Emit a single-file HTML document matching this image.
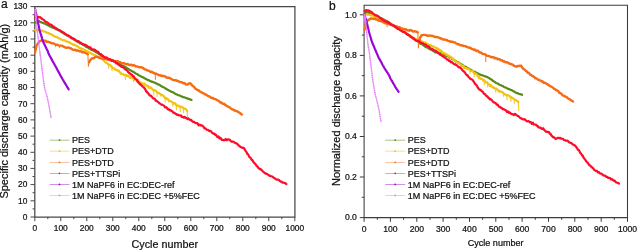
<!DOCTYPE html>
<html><head><meta charset="utf-8"><title>Cycling performance</title>
<style>
html,body{margin:0;padding:0;background:#fff}
svg{display:block}
text{font-family:"Liberation Sans",sans-serif;fill:#111;stroke:#111;stroke-width:0.22px}
.t{font-size:8.4px}
.t2{font-size:8.6px}
.l{font-size:9.0px}
.a{font-size:11.0px}
.a1{font-size:10.8px}
.a2{font-size:9.05px}
.p{font-size:12px}
</style></head><body>
<svg width="637" height="250" viewBox="0 0 637 250">
<rect width="637" height="250" fill="#fff"/>
<path d="M34.8,6.6 H294.9 V217.0 H34.8 Z" fill="none" stroke="#484848" stroke-width="1.25"/>
<path d="M34.8,217.0 h-4.3 M34.8,200.8 h-4.3 M34.8,184.6 h-4.3 M34.8,168.4 h-4.3 M34.8,152.3 h-4.3 M34.8,136.1 h-4.3 M34.8,119.9 h-4.3 M34.8,103.7 h-4.3 M34.8,87.5 h-4.3 M34.8,71.3 h-4.3 M34.8,55.2 h-4.3 M34.8,39.0 h-4.3 M34.8,22.8 h-4.3 M34.8,6.6 h-4.3 M34.8,208.9 h-2.3 M34.8,192.7 h-2.3 M34.8,176.5 h-2.3 M34.8,160.4 h-2.3 M34.8,144.2 h-2.3 M34.8,128.0 h-2.3 M34.8,111.8 h-2.3 M34.8,95.6 h-2.3 M34.8,79.4 h-2.3 M34.8,63.2 h-2.3 M34.8,47.1 h-2.3 M34.8,30.9 h-2.3 M34.8,14.7 h-2.3 M34.8,217.0 v4.2 M60.8,217.0 v4.2 M86.8,217.0 v4.2 M112.8,217.0 v4.2 M138.8,217.0 v4.2 M164.8,217.0 v4.2 M190.8,217.0 v4.2 M216.8,217.0 v4.2 M242.8,217.0 v4.2 M268.8,217.0 v4.2 M294.8,217.0 v4.2 M47.8,217.0 v2.2 M73.8,217.0 v2.2 M99.8,217.0 v2.2 M125.8,217.0 v2.2 M151.8,217.0 v2.2 M177.8,217.0 v2.2 M203.8,217.0 v2.2 M229.8,217.0 v2.2 M255.8,217.0 v2.2 M281.8,217.0 v2.2 " fill="none" stroke="#484848" stroke-width="1"/>
<text x="27.4" y="219.8" text-anchor="end" class="t">0</text>
<text x="27.4" y="203.6" text-anchor="end" class="t">10</text>
<text x="27.4" y="187.4" text-anchor="end" class="t">20</text>
<text x="27.4" y="171.2" text-anchor="end" class="t">30</text>
<text x="27.4" y="155.1" text-anchor="end" class="t">40</text>
<text x="27.4" y="138.9" text-anchor="end" class="t">50</text>
<text x="27.4" y="122.7" text-anchor="end" class="t">60</text>
<text x="27.4" y="106.5" text-anchor="end" class="t">70</text>
<text x="27.4" y="90.3" text-anchor="end" class="t">80</text>
<text x="27.4" y="74.1" text-anchor="end" class="t">90</text>
<text x="27.4" y="58.0" text-anchor="end" class="t">100</text>
<text x="27.4" y="41.8" text-anchor="end" class="t">110</text>
<text x="27.4" y="25.6" text-anchor="end" class="t">120</text>
<text x="27.4" y="9.4" text-anchor="end" class="t">130</text>
<text x="34.8" y="231.1" text-anchor="middle" class="t">0</text>
<text x="60.8" y="231.1" text-anchor="middle" class="t">100</text>
<text x="86.8" y="231.1" text-anchor="middle" class="t">200</text>
<text x="112.8" y="231.1" text-anchor="middle" class="t">300</text>
<text x="138.8" y="231.1" text-anchor="middle" class="t">400</text>
<text x="164.8" y="231.1" text-anchor="middle" class="t">500</text>
<text x="190.8" y="231.1" text-anchor="middle" class="t">600</text>
<text x="216.8" y="231.1" text-anchor="middle" class="t">700</text>
<text x="242.8" y="231.1" text-anchor="middle" class="t">800</text>
<text x="268.8" y="231.1" text-anchor="middle" class="t">900</text>
<text x="294.8" y="231.1" text-anchor="middle" class="t">1000</text>
<path d="M35.0,23.0 L35.6,22.2 L36.6,21.9 L37.5,21.1 L38.5,20.8 L39.4,21.3 L40.4,22.1 L41.3,22.2 L42.2,22.7 L43.2,23.0 L44.1,23.5 L45.1,23.8 L46.0,24.2 L46.9,24.8 L47.9,25.2 L48.8,25.8 L49.7,26.1 L50.7,26.7 L51.6,27.1 L52.6,27.6 L53.5,27.9 L54.4,28.1 L55.4,28.8 L56.3,29.3 L57.3,29.8 L58.2,30.0 L59.1,30.6 L59.9,30.9 L60.8,31.7 L61.7,32.1 L62.5,32.5 L63.4,32.9 L64.2,33.8 L65.1,34.4 L66.0,34.5 L66.8,35.3 L67.7,35.7 L68.6,36.1 L69.6,36.7 L70.5,37.5 L71.5,38.1 L72.4,38.3 L73.3,39.1 L74.3,39.4 L75.2,40.3 L76.2,40.7 L77.1,41.5 L78.0,42.1 L79.0,42.4 L79.9,43.3 L80.9,43.5 L81.8,43.9 L82.7,44.8 L83.7,45.1 L84.6,45.7 L85.6,46.4 L86.5,47.1 L87.4,47.3 L88.4,47.8 L89.3,48.7 L90.3,48.9 L91.2,49.7 L92.1,50.1 L93.1,50.4 L94.0,50.9 L95.0,51.4 L95.9,52.0 L96.8,52.5 L97.6,53.0 L98.5,53.6 L99.3,54.3 L100.2,54.6 L101.0,55.1 L101.9,55.8 L102.7,56.1 L103.6,56.6 L104.4,57.5 L105.3,57.8 L106.2,58.2 L107.2,58.3 L108.1,58.9 L109.1,59.4 L110.0,59.5 L110.9,60.2 L111.9,60.6 L112.8,60.7 L113.8,61.4 L114.7,61.7 L115.7,62.3 L116.6,62.6 L117.5,63.2 L118.5,63.7 L119.5,63.8 L120.4,64.3 L121.4,65.1 L122.3,65.7 L123.2,65.8 L124.2,66.4 L125.2,67.1 L126.1,67.5 L127.1,68.2 L128.1,68.8 L129.0,69.4 L130.0,70.1 L130.9,70.5 L131.8,71.0 L132.7,71.7 L133.6,71.8 L134.6,72.7 L135.5,73.4 L136.5,73.8 L137.5,74.3 L138.4,75.2 L139.4,75.6 L140.3,76.0 L141.3,76.6 L142.2,77.2 L143.2,77.4 L144.1,78.0 L145.0,78.4 L146.0,79.2 L146.9,79.4 L147.9,80.1 L148.8,80.2 L149.7,80.7 L150.7,81.2 L151.6,81.7 L152.6,81.9 L153.5,82.2 L154.4,82.5 L155.4,83.1 L156.3,83.3 L157.3,84.0 L158.2,84.4 L159.1,84.6 L159.9,85.1 L160.8,85.9 L161.7,86.3 L162.5,86.9 L163.4,87.2 L164.2,87.6 L165.1,88.2 L166.0,88.9 L166.8,89.2 L167.7,89.7 L168.6,90.2 L169.6,90.7 L170.5,91.2 L171.5,91.9 L172.4,92.0 L173.3,92.4 L174.3,93.3 L175.2,93.7 L176.2,94.3 L177.1,94.5 L178.0,95.1 L179.0,95.5 L179.9,95.5 L180.9,96.1 L181.8,96.6 L182.7,96.9 L183.7,97.2 L184.6,97.4 L185.6,97.8 L186.5,98.2 L187.5,98.4 L188.5,98.9 L189.5,99.1 L190.5,99.7 L191.5,99.8" fill="none" stroke="#5a8a16" stroke-width="2.2" stroke-linejoin="round" stroke-linecap="round"/>
<path d="M108.6,64.7 L108.8,68.2 M111.9,66.9 L112.1,70.6 M120.1,72.4 L120.3,74.4 M125.2,75.0 L125.4,79.4 M133.4,78.8 L133.6,81.4 M139.6,81.8 L139.8,85.1 M143.8,84.0 L144.0,87.4 M148.0,85.8 L148.2,88.1 M153.6,90.1 L153.8,94.7 M157.0,92.2 L157.2,96.4 M160.2,93.9 L160.4,95.9 M165.0,98.1 L165.2,101.8 M168.4,100.0 L168.6,101.9 M172.7,102.6 L172.9,105.9 M176.3,105.0 L176.5,109.6 M180.1,106.8 L180.3,111.5 M183.4,108.2 L183.6,112.6 M187.2,111.0 L187.4,116.4 " fill="none" stroke="#f2c313" stroke-width="1.1" stroke-linecap="round" opacity="0.9"/>
<path d="M35.0,30.2 L35.6,30.2 L36.9,30.0 L38.1,30.2 L39.4,30.2 L40.4,30.6 L41.5,30.7 L42.5,30.6 L43.6,31.5 L44.6,31.5 L45.7,32.0 L46.7,32.6 L47.8,32.9 L48.8,33.1 L49.7,34.0 L50.7,34.2 L51.6,34.5 L52.6,34.9 L53.5,35.9 L54.4,36.1 L55.4,36.8 L56.3,36.9 L57.3,37.3 L58.2,38.0 L59.2,38.6 L60.1,38.5 L61.1,39.4 L62.0,39.8 L63.0,40.1 L63.9,40.5 L64.9,40.3 L65.8,41.1 L66.8,41.7 L67.7,41.5 L68.6,42.1 L69.6,42.6 L70.5,43.2 L71.5,43.6 L72.4,44.1 L73.3,44.8 L74.3,44.7 L75.2,45.2 L76.2,45.8 L77.1,46.2 L78.0,46.6 L79.0,47.7 L79.9,48.1 L80.9,48.0 L81.8,48.8 L82.7,49.1 L83.7,49.5 L84.6,50.0 L85.6,50.7 L86.5,51.1 L87.4,51.4 L88.4,51.8 L89.3,52.4 L90.3,52.7 L91.2,53.5 L92.1,54.2 L93.1,54.4 L94.0,54.7 L95.0,55.3 L95.9,55.9 L96.8,56.5 L97.8,57.1 L98.7,57.3 L99.7,58.1 L100.6,58.4 L101.6,58.8 L102.5,59.2 L103.3,60.0 L104.1,60.9 L104.8,61.5 L105.6,62.4 L106.4,63.0 L107.3,63.2 L108.1,64.3 L109.0,65.1 L109.9,64.7 L110.8,65.9 L111.6,66.5 L112.5,67.8 L113.4,68.5 L114.3,68.2 L115.1,69.6 L116.0,70.1 L116.9,69.7 L117.8,70.6 L118.7,70.6 L119.6,72.2 L120.4,72.5 L121.3,73.4 L122.2,73.8 L123.1,74.1 L124.0,74.8 L125.0,75.0 L126.0,74.8 L127.0,76.0 L128.0,75.6 L129.0,76.3 L130.0,77.8 L131.0,77.2 L132.0,77.7 L133.0,78.2 L134.0,79.8 L135.0,79.1 L136.0,79.2 L137.0,81.0 L138.0,80.2 L139.0,81.8 L140.0,81.9 L140.9,82.7 L141.8,83.4 L142.7,83.3 L143.6,84.2 L144.4,83.5 L145.3,85.2 L146.2,85.4 L147.1,86.2 L148.0,85.8 L148.9,87.4 L149.8,88.2 L150.7,87.4 L151.6,88.3 L152.4,89.3 L153.3,90.3 L154.2,89.9 L155.1,90.3 L156.0,91.0 L157.0,92.2 L157.9,93.0 L158.9,93.0 L159.8,93.6 L160.8,94.2 L161.7,94.8 L162.5,95.5 L163.4,95.6 L164.2,96.9 L165.1,98.2 L166.0,97.9 L166.8,99.1 L167.7,98.8 L168.6,100.1 L169.4,100.8 L170.3,101.2 L171.1,101.4 L172.0,101.9 L172.8,102.7 L173.7,103.6 L174.5,103.0 L175.4,103.4 L176.2,105.0 L177.1,105.8 L178.0,105.6 L179.0,105.9 L179.9,106.9 L180.9,106.5 L181.8,107.1 L182.7,107.4 L183.7,108.5 L184.6,108.6 L185.6,108.9 L186.5,110.1 L187.2,111.0" fill="none" stroke="#f2c313" stroke-width="2.2" stroke-linejoin="round" stroke-linecap="round"/>
<path d="M35.0,52.5 L35.3,50.8 L35.6,50.1 L35.8,48.8 L36.1,48.1 L36.3,46.8 L36.6,45.4 L37.3,44.3 L38.0,43.1 L38.7,42.5 L39.4,41.4 L40.7,40.8 L41.9,40.6 L43.2,40.1 L44.3,40.9 L45.4,40.6 L46.6,41.8 L47.7,41.6 L48.8,42.1 L49.8,42.3 L50.9,43.0 L51.9,43.3 L53.0,43.4 L54.0,43.6 L55.1,44.2 L56.1,44.7 L57.2,44.6 L58.2,45.2 L59.3,45.8 L60.3,45.6 L61.4,45.6 L62.4,45.9 L63.5,46.7 L64.5,47.0 L65.6,47.6 L66.6,47.8 L67.7,47.4 L68.7,47.7 L69.8,48.1 L70.8,48.3 L71.9,49.1 L72.9,49.6 L74.0,50.0 L75.0,49.6 L76.1,50.6 L77.1,50.3 L78.1,50.7 L79.2,51.3 L80.2,51.0 L81.3,51.3 L82.3,52.3 L83.4,52.1 L84.4,52.5 L85.5,53.0 L86.5,53.4 L87.9,54.2 M89.2,62.0 L89.8,61.1 L90.3,59.9 L91.2,59.3 L92.1,58.3 L93.0,58.3 L94.0,58.2 L95.0,57.2 L95.9,56.9 L96.9,56.7 L98.0,57.1 L99.0,57.7 L100.1,57.4 L101.1,58.3 L102.2,58.6 L103.2,58.0 L104.3,59.0 L105.3,58.7 L106.3,59.3 L107.4,59.5 L108.4,59.2 L109.5,59.8 L110.5,60.0 L111.6,60.4 L112.6,60.0 L113.7,60.7 L114.7,61.2 L115.8,61.2 L116.8,61.4 L117.9,61.2 L118.9,61.9 L120.0,62.1 L121.0,62.8 L122.1,63.1 L123.1,63.3 L124.2,63.2 L125.4,63.9 L126.5,64.2 L127.7,64.0 L128.8,64.9 L130.0,65.0 L131.2,64.6 L132.4,65.6 L133.6,65.0 L134.6,65.5 L135.5,66.2 L136.5,66.4 L137.5,66.7 L138.4,67.0 L139.4,67.2 L140.6,67.3 L141.8,67.5 L143.0,67.8 L144.0,68.9 L144.9,69.4 L145.9,69.6 L146.9,70.3 L147.8,70.4 L148.8,70.8 L149.7,71.3 L150.7,72.1 L151.6,71.7 L152.6,72.5 L153.5,72.6 L154.5,73.5 L155.4,73.5 L156.3,73.8 L157.3,74.3 L158.2,74.8 L159.3,75.4 L160.3,75.3 L161.4,76.1 L162.4,75.7 L163.5,76.1 L164.5,76.3 L165.6,76.6 L166.6,77.6 L167.7,77.8 L168.7,77.7 L169.8,78.0 L170.8,78.6 L171.9,79.4 L172.9,79.8 L174.0,80.1 L175.0,80.3 L176.1,80.3 L177.1,80.9 L178.1,81.0 L179.2,81.7 L180.2,82.1 L181.3,82.1 L182.3,82.5 L183.4,83.4 L184.4,83.0 L185.5,84.1 L186.5,84.6 L187.8,84.3 L189.0,83.4 L190.3,83.3 L191.1,84.1 L191.9,85.0 L192.7,86.1 L193.5,86.6 L194.3,87.1 L195.1,88.4 L195.9,88.9 L196.8,89.6 L197.8,90.3 L198.7,90.1 L199.7,91.5 L200.6,91.9 L201.5,92.3 L202.5,92.9 L203.4,93.4 L204.4,93.7 L205.3,94.6 L206.2,94.6 L207.2,95.5 L208.1,96.1 L209.1,96.3 L210.0,96.9 L210.9,97.7 L211.9,98.1 L212.8,97.8 L213.8,98.9 L214.7,99.1 L215.6,99.1 L216.6,99.9 L217.5,100.3 L218.5,100.6 L219.4,101.6 L220.4,102.5 L221.3,102.4 L222.3,103.5 L223.2,103.8 L224.2,103.7 L225.1,105.0 L226.1,105.3 L227.0,106.2 L228.0,106.6 L228.9,107.2 L229.8,107.4 L230.8,108.4 L231.7,109.1 L232.7,109.6 L233.6,109.7 L234.5,110.6 L235.5,110.8 L236.4,111.0 L237.3,111.4 L238.3,112.0 L239.2,112.6 L240.1,113.1 L241.1,114.0 L242.0,114.5" fill="none" stroke="#f56c14" stroke-width="2.4" stroke-linejoin="round" stroke-linecap="round"/>
<path d="M87.9,54.2 L88.4,66.4 L89.2,62.5 M155.4,73.6 L155.4,79.5 M55.5,44.3 L55.6,46.5 M59.5,45.5 L59.6,47.5" fill="none" stroke="#f56c14" stroke-width="0.9" stroke-linejoin="round" stroke-linecap="round"/>
<path d="M34.9,17.5 L36.3,17.1 L37.8,16.8 L39.0,17.3 L40.2,17.2 L41.2,18.1 L42.1,19.1 L43.1,19.5 L44.0,19.9 L45.0,21.4 L46.0,21.9 L46.9,22.2 L47.8,22.9 L48.8,23.8 L49.7,24.4 L50.5,24.6 L51.4,24.9 L52.2,25.6 L53.1,26.8 L53.9,26.7 L54.8,27.6 L55.6,27.8 L56.5,28.4 L57.3,28.9 L58.2,29.7 L59.1,30.0 L59.9,30.3 L60.8,30.9 L61.7,31.5 L62.5,32.4 L63.4,32.4 L64.2,32.9 L65.1,33.9 L66.0,34.4 L66.8,35.2 L67.7,35.0 L68.6,35.9 L69.6,36.5 L70.5,36.6 L71.5,38.2 L72.4,38.0 L73.3,38.4 L74.3,39.4 L75.2,39.6 L76.2,40.6 L77.1,40.9 L78.0,41.1 L79.0,41.5 L79.9,42.7 L80.9,42.6 L81.8,43.7 L82.7,43.8 L83.7,44.7 L84.6,44.5 L85.6,44.9 L86.5,45.4 L87.4,46.5 L88.4,46.8 L89.3,47.1 L90.3,47.3 L91.2,48.5 L92.1,49.4 L93.1,49.5 L94.0,49.4 L95.0,49.9 L95.9,50.6 L96.8,51.2 L97.6,51.6 L98.5,52.2 L99.3,53.5 L100.2,54.3 L101.0,54.1 L101.9,55.6 L102.7,55.6 L103.6,56.5 L104.4,57.2 L105.3,57.8 L106.2,57.3 L107.2,58.0 L108.1,58.8 L109.1,59.6 L110.0,59.1 L110.9,59.8 L111.9,60.9 L112.8,60.5 L113.8,61.3 L114.7,61.6 L115.6,62.6 L116.4,63.5 L117.3,63.2 L118.2,64.4 L119.0,65.0 L119.9,65.7 L120.7,65.9 L121.6,66.9 L122.5,66.9 L123.3,67.5 L124.2,67.9 L125.0,69.2 L125.8,69.6 L126.5,70.1 L127.3,70.7 L128.1,72.0 L128.9,72.6 L129.7,73.4 L130.5,73.7 L131.2,74.6 L132.0,74.9 L132.8,76.2 L133.6,76.2 L134.3,77.5 L135.1,78.6 L135.8,79.3 L136.5,79.5 L137.2,80.5 L137.9,82.0 L138.7,82.5 L139.4,83.6 L140.3,84.4 L141.2,84.8 L142.1,86.1 L143.0,86.8 L143.6,87.2 L144.3,88.2 L144.9,88.7 L145.6,90.0 L146.2,91.5 L146.9,91.5 L147.5,92.9 L148.2,93.3 L148.8,94.1 L149.6,95.4 L150.4,95.6 L151.2,96.0 L151.9,96.8 L152.7,97.9 L153.5,98.5 L154.3,98.5 L155.1,99.4 L155.8,100.8 L156.6,100.6 L157.4,101.6 L158.2,102.1 L159.1,103.1 L159.9,103.5 L160.8,104.3 L161.7,104.6 L162.5,104.9 L163.4,105.4 L164.2,105.9 L165.1,107.4 L166.0,107.2 L166.8,107.7 L167.7,109.3 L168.6,109.0 L169.6,110.4 L170.5,110.1 L171.5,111.0 L172.4,111.3 L173.3,112.6 L174.3,112.9 L175.2,113.5 L176.2,114.2 L177.1,114.9 L178.0,114.6 L179.0,115.4 L179.9,115.5 L180.9,115.3 L181.8,117.0 L182.7,116.9 L183.7,117.7 L184.6,116.9 L185.6,117.9 L186.5,118.1 L187.4,119.1 L188.4,118.4 L189.3,119.4 L190.3,120.1 L191.2,119.8 L192.1,121.2 L193.1,122.0 L194.0,121.9 L195.0,122.8 L195.9,123.2 L196.8,123.0 L197.8,123.7 L198.7,125.4 L199.7,124.7 L200.6,125.4 L201.5,125.2 L202.5,126.0 L203.4,126.4 L204.4,128.3 L205.3,128.4 L206.3,129.3 L207.2,130.0 L208.2,129.9 L209.2,131.1 L210.1,130.9 L211.1,131.2 L212.0,132.8 L213.0,133.3 L213.8,134.0 L214.6,133.7 L215.3,134.9 L216.1,134.9 L216.9,136.6 L217.7,137.1 L218.5,136.5 L219.3,138.4 L220.1,137.6 L220.8,138.1 L221.6,139.9 L222.4,139.7 L223.5,140.1 L224.6,140.2 L225.7,139.0 L226.8,140.3 L227.9,139.3 L229.0,139.6 L229.9,139.9 L230.9,141.2 L231.8,141.7 L232.8,141.5 L233.7,141.8 L234.6,142.6 L235.6,143.2 L236.5,143.3 L237.4,144.0 L238.4,145.3 L239.3,145.8 L240.2,146.7 L241.2,147.3 L242.1,147.7 L243.1,147.8 L244.0,148.1 L244.6,149.1 L245.1,150.2 L245.7,151.1 L246.3,151.9 L246.8,152.6 L247.4,154.0 L248.0,154.2 L248.6,155.3 L249.1,156.6 L249.7,157.3 L250.3,157.6 L250.9,158.4 L251.6,159.8 L252.2,159.8 L252.8,160.8 L253.4,162.0 L254.1,162.9 L254.7,163.3 L255.3,164.0 L256.1,164.9 L256.8,166.2 L257.6,166.6 L258.3,167.9 L259.1,168.4 L259.9,169.3 L260.6,169.0 L261.4,169.8 L262.1,170.4 L262.9,171.5 L263.8,172.2 L264.7,172.7 L265.6,173.7 L266.6,173.7 L267.6,174.4 L268.5,174.8 L269.4,175.9 L270.4,175.9 L271.3,176.2 L272.3,176.5 L273.2,177.4 L274.2,178.0 L275.1,178.6 L276.1,179.3 L277.0,179.7 L278.0,179.5 L278.9,179.9 L279.8,181.0 L280.8,181.6 L281.7,181.7 L282.6,182.6 L283.6,182.7 L284.5,182.9 L285.5,183.3 L286.4,184.1" fill="none" stroke="#ff0a28" stroke-width="2.2" stroke-linejoin="round" stroke-linecap="round"/>
<path d="M35.3,9.7 L35.5,10.9 L35.7,12.0 L36.0,13.0 L36.2,13.9 L36.4,15.0 L36.6,16.1 L36.8,17.1 L37.1,18.1 L37.3,19.0 L37.5,20.1 L37.7,21.1 L37.9,22.1 L38.1,23.3 L38.3,24.4 L38.6,25.3 L38.8,26.3 L39.0,27.4 L39.2,28.4 L39.4,29.6 L39.7,30.5 L40.0,31.7 L40.3,32.6 L40.6,33.6 L41.0,34.7 L41.3,35.7 L41.6,36.9 L41.9,37.9 L42.2,39.0 L42.5,39.9 L42.9,40.8 L43.2,41.9 L43.7,42.9 L44.2,43.8 L44.6,44.8 L45.1,45.9 L45.6,46.8 L46.0,47.6 L46.5,48.7 L47.0,49.6 L47.4,50.6 L47.9,51.6 L48.3,52.9 L48.8,54.1 L49.3,55.0 L49.8,56.1 L50.4,56.9 L50.9,57.9 L51.4,58.9 L51.9,59.7 L52.4,60.7 L52.9,61.8 L53.5,62.7 L54.0,63.5 L54.5,64.5 L55.0,65.4 L55.5,66.3 L56.1,67.3 L56.6,68.4 L57.1,69.2 L57.6,70.2 L58.1,71.1 L58.6,72.0 L59.2,73.1 L59.7,74.1 L60.2,75.1 L60.7,75.9 L61.2,76.9 L61.7,77.5 L62.2,78.5 L62.8,79.6 L63.3,80.2 L63.8,81.2 L64.3,82.1 L64.8,82.9 L65.4,83.9 L65.9,84.7 L66.5,85.6 L67.0,86.7 L67.6,87.4 L68.1,88.5 L68.7,89.3" fill="none" stroke="#9a07d6" stroke-width="2.2" stroke-linejoin="round" stroke-linecap="round"/>
<path d="M35.2,9.5 L35.3,10.6 L35.4,11.6 L35.5,12.7 L35.6,13.7 L35.7,14.8 L35.8,15.8 L35.9,16.9 L36.0,17.9 L36.1,19.0 L36.2,20.0 L36.3,21.0 L36.4,22.0 L36.5,23.0 L36.6,24.0 L36.7,25.0 L36.8,26.0 L36.9,27.0 L37.0,28.0 L37.1,29.0 L37.2,30.0 L37.3,31.0 L37.4,32.0 L37.5,33.0 L37.7,34.0 L37.8,35.0 L37.9,36.0 L38.0,37.0 L38.1,38.0 L38.3,39.0 L38.4,40.0 L38.5,41.0 L38.6,42.0 L38.7,43.0 L38.9,44.0 L39.0,45.0 L39.1,46.0 L39.2,47.0 L39.4,48.0 L39.5,49.0 L39.6,50.0 L39.7,51.0 L39.9,52.0 L40.0,53.0 L40.1,54.0 L40.2,55.0 L40.4,56.0 L40.5,57.0 L40.6,58.0 L40.7,59.0 L40.9,60.0 L41.0,61.0 L41.1,62.0 L41.3,63.0 L41.4,64.0 L41.5,65.0 L41.6,66.0 L41.8,67.0 L41.9,68.0 L42.0,69.0 L42.2,70.0 L42.3,71.0 L42.4,72.0 L42.6,73.0 L42.7,74.0 L42.8,75.0 L43.0,76.0 L43.1,77.0 L43.2,78.0 L43.3,79.0 L43.5,80.0 L43.6,81.0 L43.7,82.0 L43.9,83.0 L44.0,84.0 L44.2,85.0 L44.4,86.0 L44.5,87.0 L44.7,88.0 L44.9,89.0 L45.1,90.0 L45.5,91.1 L45.8,92.2 L46.1,93.4 L46.5,94.5 L46.9,95.8 L47.2,97.0 L47.4,98.0 L47.6,99.0 L47.8,100.0 L48.0,101.0 L48.2,102.0 L48.4,103.0 L48.6,104.0 L48.8,105.0 L49.0,106.0 L49.2,107.0 L49.4,108.1 L49.6,109.1 L49.8,110.1 L50.0,111.1 L50.1,112.2 L50.3,113.2 L50.5,114.2 L50.7,115.2 L50.9,116.3 L51.1,117.3 L51.3,118.3" fill="none" stroke="#e57bf7" stroke-width="1.4" stroke-dasharray="1.3 0.6" stroke-linejoin="round" opacity="0.92"/>
<path d="M35.2,9.5 L35.3,10.6 L35.4,11.6 L35.5,12.7 L35.6,13.7 L35.7,14.8 L35.8,15.8 L35.9,16.9 L36.0,17.9" fill="none" stroke="#e57bf7" stroke-width="1.9" stroke-linecap="round"/>
<path d="M35.2,9.5 L35.3,10.6 L35.4,11.6 L35.5,12.7 L35.6,13.7 L35.7,14.8 L35.8,15.8 L35.9,16.9 L36.0,17.9 L36.1,19.0 L36.2,20.0 L36.3,21.0 L36.4,22.0 L36.5,23.0 L36.6,24.0 L36.7,25.0 L36.8,26.0 L36.9,27.0 L37.0,28.0 L37.1,29.0 L37.2,30.0 L37.3,31.0 L37.4,32.0 L37.5,33.0 L37.7,34.0 L37.8,35.0 L37.9,36.0 L38.0,37.0 L38.1,38.0 L38.3,39.0 L38.4,40.0 L38.5,41.0 L38.6,42.0 L38.7,43.0 L38.9,44.0 L39.0,45.0 L39.1,46.0 L39.2,47.0 L39.4,48.0 L39.5,49.0 L39.6,50.0 L39.7,51.0 L39.9,52.0 L40.0,53.0 L40.1,54.0 L40.2,55.0 L40.4,56.0 L40.5,57.0 L40.6,58.0 L40.7,59.0 L40.9,60.0 L41.0,61.0 L41.1,62.0 L41.3,63.0 L41.4,64.0 L41.5,65.0 L41.6,66.0 L41.8,67.0 L41.9,68.0 L42.0,69.0 L42.2,70.0 L42.3,71.0 L42.4,72.0 L42.6,73.0 L42.7,74.0 L42.8,75.0 L43.0,76.0 L43.1,77.0 L43.2,78.0 L43.3,79.0 L43.5,80.0 L43.6,81.0 L43.7,82.0 L43.9,83.0 L44.0,84.0 L44.2,85.0 L44.4,86.0 L44.5,87.0 L44.7,88.0 L44.9,89.0 L45.1,90.0 L45.5,91.1 L45.8,92.2 L46.1,93.4 L46.5,94.5 L46.9,95.8 L47.2,97.0 L47.4,98.0 L47.6,99.0 L47.8,100.0 L48.0,101.0 L48.2,102.0 L48.4,103.0 L48.6,104.0 L48.8,105.0 L49.0,106.0 L49.2,107.0 L49.4,108.1 L49.6,109.1 L49.8,110.1 L50.0,111.1 L50.1,112.2 L50.3,113.2 L50.5,114.2 L50.7,115.2 L50.9,116.3 L51.1,117.3 L51.3,118.3" fill="none" stroke="#e57bf7" stroke-width="0.7" opacity="0.7"/>
<path d="M49.6,140.2 H69.5" stroke="#5a8a16" stroke-width="0.6" opacity="0.85"/><circle cx="59.5" cy="140.2" r="0.9" fill="#5a8a16"/><text x="72.0" y="143.4" class="l">PES</text>
<path d="M49.6,151.2 H69.5" stroke="#f2c313" stroke-width="0.6" opacity="0.85"/><circle cx="59.5" cy="151.2" r="0.9" fill="#f2c313"/><text x="72.0" y="154.4" class="l">PES+DTD</text>
<path d="M49.6,162.3 H69.5" stroke="#f56c14" stroke-width="0.6" opacity="0.85"/><circle cx="59.5" cy="162.3" r="0.9" fill="#f56c14"/><text x="72.0" y="165.5" class="l">PES+DTD</text>
<path d="M49.6,173.3 H69.5" stroke="#ff0a28" stroke-width="0.6" opacity="0.85"/><circle cx="59.5" cy="173.3" r="0.9" fill="#ff0a28"/><text x="72.0" y="176.5" class="l">PES+TTSPi</text>
<path d="M49.6,184.4 H69.5" stroke="#9a07d6" stroke-width="0.6" opacity="0.85"/><circle cx="59.5" cy="184.4" r="0.9" fill="#9a07d6"/><text x="72.0" y="187.6" class="l">1M NaPF6 in EC:DEC-ref</text>
<path d="M49.6,195.4 H69.5" stroke="#e57bf7" stroke-width="0.6" opacity="0.85"/><circle cx="59.5" cy="195.4" r="0.9" fill="#e57bf7"/><text x="72.0" y="198.6" class="l">1M NaPF6 in EC:DEC +5%FEC</text>
<path d="M364.1,5.2 H627.5 V217.6 H364.1 Z" fill="none" stroke="#3c3c3c" stroke-width="1.05"/>
<path d="M364.1,217.6 h-4.3 M364.1,177.0 h-4.3 M364.1,136.5 h-4.3 M364.1,95.9 h-4.3 M364.1,55.4 h-4.3 M364.1,14.8 h-4.3 M364.1,197.3 h-2.3 M364.1,156.8 h-2.3 M364.1,116.2 h-2.3 M364.1,75.6 h-2.3 M364.1,35.1 h-2.3 M364.1,217.6 v4.2 M390.4,217.6 v4.2 M416.8,217.6 v4.2 M443.1,217.6 v4.2 M469.5,217.6 v4.2 M495.8,217.6 v4.2 M522.1,217.6 v4.2 M548.5,217.6 v4.2 M574.8,217.6 v4.2 M601.2,217.6 v4.2 M627.5,217.6 v4.2 M377.3,217.6 v2.2 M403.6,217.6 v2.2 M430.0,217.6 v2.2 M456.3,217.6 v2.2 M482.6,217.6 v2.2 M509.0,217.6 v2.2 M535.3,217.6 v2.2 M561.7,217.6 v2.2 M588.0,217.6 v2.2 M614.3,217.6 v2.2 " fill="none" stroke="#3c3c3c" stroke-width="1"/>
<text x="356.9" y="220.4" text-anchor="end" class="t2">0.0</text>
<text x="356.9" y="179.8" text-anchor="end" class="t2">0.2</text>
<text x="356.9" y="139.3" text-anchor="end" class="t2">0.4</text>
<text x="356.9" y="98.7" text-anchor="end" class="t2">0.6</text>
<text x="356.9" y="58.2" text-anchor="end" class="t2">0.8</text>
<text x="356.9" y="17.6" text-anchor="end" class="t2">1.0</text>
<text x="364.1" y="231.9" text-anchor="middle" class="t2">0</text>
<text x="390.4" y="231.9" text-anchor="middle" class="t2">100</text>
<text x="416.8" y="231.9" text-anchor="middle" class="t2">200</text>
<text x="443.1" y="231.9" text-anchor="middle" class="t2">300</text>
<text x="469.5" y="231.9" text-anchor="middle" class="t2">400</text>
<text x="495.8" y="231.9" text-anchor="middle" class="t2">500</text>
<text x="522.1" y="231.9" text-anchor="middle" class="t2">600</text>
<text x="548.5" y="231.9" text-anchor="middle" class="t2">700</text>
<text x="574.8" y="231.9" text-anchor="middle" class="t2">800</text>
<text x="601.2" y="231.9" text-anchor="middle" class="t2">900</text>
<text x="627.5" y="231.9" text-anchor="middle" class="t2">1000</text>
<path d="M364.5,13.8 L366.0,12.4 L367.0,12.4 L368.0,12.6 L369.1,13.2 L370.2,13.4 L371.3,14.0 L372.2,14.3 L373.2,14.6 L374.1,14.9 L375.1,15.5 L376.0,15.8 L376.9,16.2 L377.9,16.8 L378.8,17.3 L379.7,17.6 L380.7,17.9 L381.6,18.4 L382.6,19.0 L383.5,19.6 L384.4,19.9 L385.4,20.3 L386.3,20.9 L387.3,21.4 L388.2,21.8 L389.1,22.6 L389.9,23.3 L390.8,23.7 L391.7,24.3 L392.5,24.9 L393.4,25.4 L394.2,26.0 L395.1,26.3 L396.0,27.0 L396.8,27.3 L397.7,28.2 L398.6,28.5 L399.4,29.1 L400.3,29.9 L401.1,30.1 L402.0,30.6 L402.8,31.5 L403.7,31.9 L404.5,32.2 L405.4,32.8 L406.2,33.5 L407.1,33.9 L408.0,34.9 L408.8,35.1 L409.7,35.8 L410.5,36.4 L411.4,37.1 L412.2,37.7 L413.1,38.4 L413.9,39.0 L414.8,39.5 L415.6,39.9 L416.5,40.9 L417.4,41.4 L418.2,41.6 L419.1,42.4 L419.9,43.1 L420.8,43.8 L421.6,43.9 L422.5,44.4 L423.3,45.2 L424.2,45.7 L425.0,46.5 L425.9,47.1 L426.8,47.3 L427.8,47.9 L428.7,48.5 L429.7,49.2 L430.6,49.4 L431.5,50.0 L432.5,50.4 L433.4,51.2 L434.4,51.4 L435.3,52.4 L436.5,52.5 L437.6,52.7 L438.8,52.7 L440.0,53.1 L441.0,53.6 L442.0,54.2 L443.0,54.4 L444.0,54.7 L445.0,55.4 L446.0,55.7 L447.0,56.0 L448.0,56.3 L448.9,56.8 L449.8,57.6 L450.7,57.7 L451.6,58.5 L452.4,59.0 L453.3,59.4 L454.2,60.1 L455.1,60.7 L456.0,61.2 L456.9,61.7 L457.8,62.0 L458.7,62.4 L459.6,63.2 L460.4,63.7 L461.3,64.2 L462.2,65.1 L463.1,65.3 L464.0,66.2 L464.9,66.7 L465.8,66.8 L466.7,67.7 L467.6,68.0 L468.4,68.4 L469.3,68.9 L470.2,69.3 L471.1,70.1 L472.0,70.5 L473.0,71.3 L474.0,71.8 L475.0,71.9 L476.0,72.6 L477.0,73.0 L478.0,73.4 L479.0,74.0 L480.0,74.5 L481.0,75.0 L482.0,75.2 L483.0,75.5 L484.0,75.9 L485.0,76.3 L486.0,76.7 L487.0,76.9 L488.0,77.5 L488.9,77.9 L489.8,78.7 L490.7,79.3 L491.6,79.6 L492.4,80.5 L493.3,80.9 L494.2,81.6 L495.1,82.2 L496.0,82.9 L497.0,83.3 L498.0,83.6 L499.0,84.4 L500.0,85.0 L501.0,85.3 L502.0,85.8 L503.0,86.2 L504.0,87.0 L505.1,87.4 L506.1,87.6 L507.2,88.4 L508.3,88.9 L509.3,89.1 L510.4,89.8 L511.4,90.1 L512.4,90.5 L513.5,91.4 L514.5,91.7 L515.5,92.5 L516.5,92.9 L517.6,93.1 L518.7,93.7 L519.9,94.2 L521.0,94.4 L522.1,94.8" fill="none" stroke="#5a8a16" stroke-width="2.2" stroke-linejoin="round" stroke-linecap="round"/>
<path d="M438.6,49.7 L438.8,53.2 M442.0,52.0 L442.2,55.8 M450.3,56.7 L450.5,58.7 M455.4,61.0 L455.6,65.5 M463.7,66.2 L463.9,68.7 M469.9,70.3 L470.1,73.6 M474.1,73.1 L474.3,76.5 M478.4,76.6 L478.6,78.9 M484.1,80.1 L484.3,84.7 M487.5,82.8 L487.7,87.0 M490.7,85.0 L490.9,87.0 M495.6,88.6 L495.8,92.3 M499.0,91.0 L499.2,92.9 M503.3,93.0 L503.5,96.3 M506.9,95.1 L507.1,99.8 M510.8,96.9 L511.0,101.6 M514.1,99.3 L514.3,103.7 M518.3,102.0 L518.8,110.8 " fill="none" stroke="#f2c313" stroke-width="1.1" stroke-linecap="round" opacity="0.9"/>
<path d="M364.5,15.0 L366.0,14.8 L367.1,14.5 L368.3,14.6 L369.4,14.8 L370.4,15.3 L371.5,15.2 L372.5,15.5 L373.6,16.4 L374.6,16.6 L375.7,16.8 L376.7,17.6 L377.8,18.0 L378.8,18.1 L379.7,18.9 L380.7,19.3 L381.6,19.7 L382.6,19.9 L383.5,20.2 L384.4,21.2 L385.4,21.7 L386.3,21.9 L387.3,22.5 L388.2,23.0 L389.1,23.4 L390.1,24.2 L391.1,24.7 L392.0,25.1 L392.9,25.5 L393.9,26.3 L394.8,26.7 L395.8,27.6 L396.8,27.7 L397.7,28.4 L398.6,28.8 L399.6,29.5 L400.5,30.2 L401.5,30.4 L402.4,30.9 L403.3,31.8 L404.3,32.1 L405.2,32.9 L406.2,33.2 L407.1,33.7 L408.0,34.6 L409.0,35.5 L409.9,36.1 L410.8,36.4 L411.8,36.9 L412.7,37.3 L413.6,37.9 L414.6,38.3 L415.6,39.2 L416.5,39.0 L417.4,40.0 L418.4,40.1 L419.3,40.4 L420.3,40.7 L421.2,41.6 L422.1,41.4 L423.1,42.1 L424.0,42.4 L425.0,42.6 L425.9,43.0 L426.8,44.0 L427.8,44.2 L428.7,44.6 L429.7,45.2 L430.6,45.0 L431.5,45.9 L432.5,46.3 L433.4,46.4 L434.4,46.9 L435.3,47.7 L436.2,47.8 L437.0,48.9 L437.9,48.5 L438.7,49.8 L439.6,49.7 L440.4,50.6 L441.3,50.9 L442.1,52.3 L443.0,52.6 L443.8,52.8 L444.7,53.6 L445.6,53.8 L446.4,55.0 L447.3,54.7 L448.2,55.7 L449.0,56.4 L449.9,56.7 L450.7,56.7 L451.6,57.5 L452.5,58.8 L453.3,58.7 L454.2,60.2 L455.0,60.4 L455.9,61.7 L456.7,62.2 L457.5,62.6 L458.3,62.6 L459.2,62.7 L460.0,64.1 L460.9,65.0 L461.8,66.0 L462.7,65.5 L463.6,66.0 L464.6,67.9 L465.5,68.1 L466.5,68.2 L467.5,69.1 L468.4,68.7 L469.4,69.9 L470.3,70.6 L471.2,71.0 L472.1,70.8 L473.0,71.2 L473.8,72.7 L474.7,73.9 L475.5,73.4 L476.3,73.9 L477.1,74.7 L478.0,76.5 L478.8,76.6 L479.7,77.4 L480.5,78.9 L481.4,78.9 L482.2,79.0 L483.1,80.4 L483.9,79.9 L484.8,81.0 L485.6,82.4 L486.5,82.2 L487.3,82.6 L488.2,84.0 L489.1,84.3 L489.9,85.9 L490.8,85.0 L491.7,86.7 L492.5,86.5 L493.4,87.8 L494.2,87.7 L495.1,88.6 L496.0,88.6 L496.8,89.0 L497.7,89.9 L498.6,91.0 L499.6,90.8 L500.5,91.2 L501.5,92.1 L502.4,92.1 L503.3,93.0 L504.3,94.0 L505.2,94.5 L506.2,95.1 L507.1,95.2 L508.0,95.2 L509.0,95.7 L509.9,96.6 L510.9,96.9 L511.8,98.0 L512.7,97.9 L513.7,99.2 L514.6,99.4 L515.6,100.0 L516.5,100.6 L517.4,101.1 L518.3,102.0" fill="none" stroke="#f2c313" stroke-width="2.2" stroke-linejoin="round" stroke-linecap="round"/>
<path d="M364.5,29.9 L364.8,29.2 L365.1,27.9 L365.3,27.5 L365.6,26.1 L365.8,24.7 L366.1,24.4 L366.3,23.0 L366.6,21.9 L367.5,20.8 L368.5,19.6 L369.4,19.5 L370.7,18.5 L371.9,18.5 L373.2,19.0 L374.3,18.5 L375.4,19.3 L376.6,19.6 L377.7,19.8 L378.8,20.8 L379.8,20.7 L380.7,20.7 L381.6,21.5 L382.6,21.4 L383.6,22.5 L384.5,23.0 L385.4,23.4 L386.4,22.9 L387.4,23.9 L388.5,23.9 L389.5,24.4 L390.5,24.5 L391.5,24.9 L392.6,25.1 L393.6,25.9 L394.6,25.7 L395.6,26.9 L396.7,26.3 L397.7,27.6 L398.7,27.1 L399.8,27.3 L400.8,28.3 L401.9,28.4 L402.9,29.0 L404.0,29.0 L405.0,29.5 L406.1,29.3 L407.1,30.2 L408.1,30.2 L409.2,30.8 L410.2,30.0 L411.3,30.3 L412.3,31.1 L413.4,31.5 L414.4,31.2 L415.5,31.6 L416.5,31.7 L417.8,32.3 M419.2,41.9 L419.4,40.8 L419.7,39.9 L419.9,38.2 L420.2,37.3 L420.9,36.6 L421.5,35.1 L422.6,35.2 L423.7,34.9 L424.8,34.9 L425.9,35.2 L426.9,35.5 L428.0,35.9 L429.0,35.6 L430.1,35.5 L431.1,35.9 L432.2,35.8 L433.2,36.2 L434.3,36.8 L435.3,37.0 L436.3,37.0 L437.4,37.2 L438.4,37.4 L439.5,37.8 L440.5,38.5 L441.6,38.5 L442.6,39.5 L443.7,39.5 L444.7,39.5 L445.8,40.0 L446.8,39.9 L447.9,40.9 L448.9,41.2 L450.0,41.2 L451.0,41.9 L452.1,41.7 L453.1,42.0 L454.2,42.3 L455.2,42.7 L456.1,43.5 L457.1,43.9 L458.1,44.4 L459.0,44.2 L460.0,45.3 L461.0,45.3 L462.1,45.4 L463.1,45.8 L464.2,46.0 L465.2,46.1 L466.3,46.6 L467.3,47.1 L468.4,47.4 L469.4,47.9 L470.3,47.6 L471.3,48.7 L472.2,49.0 L473.2,49.3 L474.1,50.0 L475.0,49.5 L476.0,50.6 L476.9,51.1 L477.9,50.7 L478.8,51.6 L479.8,52.5 L480.8,52.4 L481.8,53.4 L482.8,54.0 L483.8,54.1 L484.8,54.3 L485.8,54.9 L487.0,55.9 L488.2,55.9 L489.3,56.1 L490.3,56.6 L491.4,57.4 L492.4,57.0 L493.5,57.1 L494.5,58.3 L495.6,58.0 L496.6,58.4 L497.7,59.3 L498.6,59.0 L499.6,59.1 L500.5,60.3 L501.5,60.1 L502.4,60.4 L503.3,61.5 L504.3,61.2 L505.2,62.2 L506.2,62.1 L507.1,62.4 L508.0,62.7 L509.0,63.4 L509.9,63.8 L510.9,64.0 L511.8,64.5 L512.7,64.7 L513.7,65.6 L514.6,66.1 L515.6,66.3 L516.5,66.7 L517.7,65.9 L518.9,66.0 L520.0,65.8 L521.2,65.7 L522.0,67.3 L522.8,68.1 L523.5,69.0 L524.3,69.5 L525.1,69.9 L525.9,71.0 L526.8,71.3 L527.6,72.8 L528.5,72.7 L529.3,73.4 L530.2,74.7 L531.0,74.6 L531.9,75.9 L532.7,75.9 L533.6,76.9 L534.4,77.0 L535.3,78.4 L536.2,78.4 L537.2,78.8 L538.1,79.7 L539.1,80.1 L540.0,80.3 L540.9,80.6 L541.9,81.6 L542.8,81.5 L543.8,82.9 L544.7,82.8 L545.7,83.2 L546.6,83.9 L547.6,84.3 L548.5,85.0 L549.5,85.8 L550.4,86.2 L551.4,86.7 L552.3,87.2 L553.2,87.9 L554.2,88.8 L555.1,89.1 L555.9,90.1 L556.8,90.4 L557.6,90.7 L558.5,91.4 L559.3,92.8 L560.2,93.1 L561.0,93.6 L561.9,94.4 L562.7,95.4 L563.6,95.6 L564.5,96.1 L565.5,96.7 L566.4,96.9 L567.4,98.0 L568.3,98.5 L569.2,99.1 L570.2,99.6 L571.1,100.2 L572.1,101.0 L573.0,101.4" fill="none" stroke="#f56c14" stroke-width="2.4" stroke-linejoin="round" stroke-linecap="round"/>
<path d="M417.8,32.3 L418.4,48.2 L419.2,42.0 M485.8,55.2 L485.8,61.7 M387.0,23.0 L387.1,26.8" fill="none" stroke="#f56c14" stroke-width="0.9" stroke-linejoin="round" stroke-linecap="round"/>
<path d="M364.5,10.9 L364.9,11.4 L366.2,10.1 L367.5,10.6 L368.4,10.3 L369.4,11.5 L370.4,11.4 L371.3,11.7 L372.2,12.8 L373.2,13.7 L374.1,14.3 L375.1,15.0 L376.0,15.7 L376.9,15.3 L377.9,16.3 L378.8,16.6 L379.7,17.9 L380.7,18.1 L381.6,19.0 L382.6,19.6 L383.5,20.4 L384.4,20.6 L385.4,21.4 L386.3,21.6 L387.3,21.6 L388.2,23.1 L389.1,22.7 L389.9,23.3 L390.8,24.6 L391.7,24.5 L392.5,25.5 L393.4,25.3 L394.2,26.0 L395.1,27.1 L396.0,26.9 L396.8,27.9 L397.7,28.9 L398.6,28.7 L399.6,29.8 L400.5,30.4 L401.5,30.8 L402.4,31.5 L403.3,32.0 L404.3,31.8 L405.2,32.6 L406.2,33.6 L407.1,34.6 L408.0,34.4 L408.8,35.3 L409.7,35.4 L410.5,36.8 L411.4,36.9 L412.2,37.6 L413.1,38.3 L413.9,38.3 L414.8,39.6 L415.6,40.2 L416.5,40.9 L417.4,40.7 L418.4,41.1 L419.3,41.5 L420.3,42.7 L421.2,42.7 L422.1,43.1 L423.1,43.6 L424.0,44.3 L425.0,44.3 L425.9,44.8 L426.8,45.8 L427.6,46.4 L428.5,46.4 L429.3,46.7 L430.2,48.2 L431.0,48.5 L431.9,48.9 L432.7,49.2 L433.6,50.4 L434.4,50.3 L435.3,50.6 L436.2,51.1 L437.0,52.0 L437.9,52.9 L438.7,53.2 L439.6,54.4 L440.4,54.7 L441.3,55.1 L442.1,55.9 L443.0,56.4 L443.8,57.0 L444.7,57.5 L445.6,58.1 L446.4,58.7 L447.3,59.7 L448.2,59.6 L449.0,60.8 L449.9,60.9 L450.7,62.1 L451.6,61.8 L452.5,62.9 L453.3,63.4 L454.2,64.3 L455.2,64.4 L456.1,65.1 L457.1,65.6 L458.1,66.7 L459.0,67.4 L460.0,67.4 L460.9,68.3 L461.8,69.2 L462.7,70.8 L463.6,71.1 L464.2,71.9 L464.9,72.4 L465.5,73.6 L466.2,74.5 L466.8,75.1 L467.5,75.2 L468.1,76.4 L468.8,77.2 L469.4,77.5 L470.3,78.9 L471.2,79.1 L472.1,79.6 L473.0,80.6 L473.6,81.5 L474.3,82.4 L474.9,83.7 L475.6,84.3 L476.2,85.0 L476.9,85.6 L477.5,87.2 L478.2,87.9 L478.8,89.1 L479.6,89.6 L480.4,89.9 L481.2,90.6 L482.1,91.4 L482.9,92.0 L483.7,93.5 L484.5,93.9 L485.2,94.3 L486.0,95.6 L486.7,96.2 L487.5,96.4 L488.2,97.9 L489.0,97.9 L489.8,99.4 L490.6,99.1 L491.4,99.9 L492.2,100.4 L492.9,101.7 L493.7,102.3 L494.5,102.7 L495.3,102.8 L496.1,103.8 L496.9,104.7 L497.7,104.6 L498.6,106.2 L499.4,106.7 L500.3,107.4 L501.1,107.7 L502.0,108.2 L502.8,109.2 L503.7,109.0 L504.5,109.7 L505.4,110.1 L506.2,110.7 L507.1,112.0 L508.1,111.3 L509.1,112.9 L510.1,112.6 L511.1,113.9 L512.0,114.1 L513.0,114.3 L514.0,115.0 L515.0,113.8 L516.5,115.1 L517.5,115.7 L518.5,116.3 L519.5,117.3 L520.5,118.2 L521.4,118.4 L522.4,119.2 L523.4,119.3 L524.4,119.1 L525.3,119.9 L526.3,120.8 L527.2,121.4 L528.2,121.0 L529.1,121.5 L530.0,122.4 L531.0,122.2 L531.9,123.9 L532.9,122.7 L533.8,124.4 L534.7,124.5 L535.7,124.5 L536.6,125.6 L537.6,125.9 L538.5,127.3 L539.4,127.6 L540.4,127.6 L541.3,128.6 L542.3,129.0 L543.2,128.2 L544.2,130.0 L545.1,130.7 L546.0,131.6 L547.0,131.8 L548.0,131.8 L548.9,132.1 L549.7,133.7 L550.5,133.7 L551.3,135.5 L552.1,135.9 L552.9,137.2 L553.7,137.1 L554.5,137.8 L555.6,138.9 L556.8,138.4 L557.9,137.8 L559.1,138.1 L560.2,137.8 L561.1,138.6 L562.1,138.7 L563.0,138.9 L564.0,140.0 L564.9,140.3 L565.8,140.6 L566.8,140.5 L567.7,140.8 L568.7,141.9 L569.6,142.6 L570.5,143.0 L571.5,143.1 L572.5,144.3 L573.4,144.7 L574.3,145.1 L575.3,145.9 L576.0,146.7 L576.8,147.8 L577.5,148.9 L578.3,150.1 L579.0,150.1 L579.6,151.5 L580.3,152.9 L580.9,153.5 L581.5,154.3 L582.2,155.6 L582.8,155.6 L583.4,157.4 L584.1,158.2 L584.7,159.1 L585.3,159.8 L586.0,161.1 L586.6,161.5 L587.4,162.7 L588.1,163.2 L588.9,164.7 L589.6,165.3 L590.4,165.7 L591.1,166.7 L591.9,167.1 L592.6,168.0 L593.4,168.4 L594.1,169.9 L595.0,170.4 L596.0,171.0 L596.9,170.9 L597.8,172.3 L598.8,172.0 L599.7,173.3 L600.7,173.7 L601.6,173.7 L602.6,174.6 L603.5,175.5 L604.5,175.7 L605.4,175.9 L606.4,176.9 L607.3,176.9 L608.2,178.0 L609.2,177.9 L610.1,178.0 L611.0,179.5 L611.9,179.1 L612.8,179.8 L613.7,180.8 L614.5,180.6 L615.4,181.6 L616.3,182.5 L617.2,182.7 L618.1,182.9 L619.0,183.6" fill="none" stroke="#ff0a28" stroke-width="2.2" stroke-linejoin="round" stroke-linecap="round"/>
<path d="M364.5,14.8 L364.8,15.8 L365.1,16.7 L365.4,17.8 L365.7,18.7 L366.0,19.7 L366.3,20.9 L366.6,21.9 L366.9,22.7 L367.1,23.8 L367.4,24.8 L367.6,26.0 L367.9,26.9 L368.1,27.9 L368.4,29.1 L368.6,29.9 L368.9,31.2 L369.1,32.1 L369.4,33.2 L369.7,34.2 L369.9,35.0 L370.2,36.1 L370.5,37.0 L370.8,38.0 L371.0,38.9 L371.3,40.0 L371.8,41.3 L372.2,42.5 L372.6,43.6 L373.0,44.4 L373.4,45.4 L373.9,46.3 L374.3,47.4 L374.7,48.5 L375.1,49.4 L375.5,50.3 L375.9,51.2 L376.3,52.3 L376.7,53.1 L377.2,54.2 L377.6,55.0 L378.0,56.1 L378.4,57.0 L378.8,58.0 L379.3,58.8 L379.8,59.7 L380.4,60.6 L380.9,61.7 L381.4,62.5 L381.9,63.4 L382.4,64.5 L382.9,65.5 L383.5,66.4 L384.0,67.3 L384.5,68.2 L385.1,69.2 L385.7,70.1 L386.3,71.0 L386.9,71.8 L387.4,72.6 L388.0,73.6 L388.6,74.5 L389.2,75.5 L389.6,76.5 L390.1,77.8 L390.6,78.7 L391.2,79.7 L391.7,80.7 L392.3,81.5 L392.8,82.6 L393.4,83.6 L393.9,84.3 L394.8,86.0 L395.4,87.1 L396.1,88.1 L396.7,89.1 L397.3,89.9 L398.0,91.0 L398.6,91.9" fill="none" stroke="#9a07d6" stroke-width="2.2" stroke-linejoin="round" stroke-linecap="round"/>
<path d="M364.6,14.7 L364.7,15.7 L364.9,16.8 L365.0,17.8 L365.1,18.8 L365.2,19.9 L365.4,20.9 L365.5,21.9 L365.6,22.9 L365.7,24.0 L365.9,25.0 L366.0,26.0 L366.1,27.1 L366.2,28.1 L366.4,29.1 L366.5,30.2 L366.6,31.2 L366.7,32.3 L366.8,33.3 L366.9,34.4 L367.0,35.5 L367.1,36.5 L367.2,37.6 L367.4,38.7 L367.5,39.7 L367.6,40.8 L367.7,41.9 L367.8,42.9 L367.9,44.0 L368.1,45.0 L368.2,46.0 L368.4,47.0 L368.6,48.0 L368.7,49.0 L368.9,50.0 L369.1,51.0 L369.2,52.0 L369.4,53.0 L369.5,54.0 L369.7,55.0 L369.8,56.0 L369.9,57.1 L370.0,58.1 L370.2,59.1 L370.3,60.1 L370.4,61.1 L370.5,62.1 L370.7,63.1 L370.8,64.1 L370.9,65.2 L371.0,66.2 L371.2,67.2 L371.3,68.2 L371.4,69.3 L371.6,70.3 L371.7,71.4 L371.8,72.5 L371.9,73.6 L372.1,74.6 L372.2,75.7 L372.3,76.8 L372.4,77.9 L372.6,78.9 L372.7,80.0 L372.9,81.0 L373.0,82.0 L373.2,83.0 L373.4,83.9 L373.6,84.9 L373.7,85.9 L373.9,86.9 L374.1,87.9 L374.2,88.9 L374.4,89.9 L374.6,90.8 L374.8,91.8 L374.9,92.8 L375.1,93.8 L375.4,94.9 L375.7,96.1 L376.0,97.2 L376.3,98.4 L376.6,99.5 L376.8,100.5 L377.1,101.6 L377.3,102.6 L377.6,103.7 L377.8,104.7 L378.1,105.8 L378.3,106.8 L378.6,107.9 L378.8,108.9 L379.0,109.9 L379.2,110.9 L379.3,112.0 L379.5,113.0 L379.7,114.0 L379.9,115.0 L380.0,116.1 L380.2,117.1 L380.4,118.1 L380.6,119.1 L380.7,120.2 L380.9,121.2 L381.1,122.2" fill="none" stroke="#e57bf7" stroke-width="1.4" stroke-dasharray="1.3 0.6" stroke-linejoin="round" opacity="0.92"/>
<path d="M364.6,14.7 L364.7,15.7 L364.9,16.8 L365.0,17.8 L365.1,18.8 L365.2,19.9 L365.4,20.9 L365.5,21.9 L365.6,22.9" fill="none" stroke="#e57bf7" stroke-width="1.9" stroke-linecap="round"/>
<path d="M364.6,14.7 L364.7,15.7 L364.9,16.8 L365.0,17.8 L365.1,18.8 L365.2,19.9 L365.4,20.9 L365.5,21.9 L365.6,22.9 L365.7,24.0 L365.9,25.0 L366.0,26.0 L366.1,27.1 L366.2,28.1 L366.4,29.1 L366.5,30.2 L366.6,31.2 L366.7,32.3 L366.8,33.3 L366.9,34.4 L367.0,35.5 L367.1,36.5 L367.2,37.6 L367.4,38.7 L367.5,39.7 L367.6,40.8 L367.7,41.9 L367.8,42.9 L367.9,44.0 L368.1,45.0 L368.2,46.0 L368.4,47.0 L368.6,48.0 L368.7,49.0 L368.9,50.0 L369.1,51.0 L369.2,52.0 L369.4,53.0 L369.5,54.0 L369.7,55.0 L369.8,56.0 L369.9,57.1 L370.0,58.1 L370.2,59.1 L370.3,60.1 L370.4,61.1 L370.5,62.1 L370.7,63.1 L370.8,64.1 L370.9,65.2 L371.0,66.2 L371.2,67.2 L371.3,68.2 L371.4,69.3 L371.6,70.3 L371.7,71.4 L371.8,72.5 L371.9,73.6 L372.1,74.6 L372.2,75.7 L372.3,76.8 L372.4,77.9 L372.6,78.9 L372.7,80.0 L372.9,81.0 L373.0,82.0 L373.2,83.0 L373.4,83.9 L373.6,84.9 L373.7,85.9 L373.9,86.9 L374.1,87.9 L374.2,88.9 L374.4,89.9 L374.6,90.8 L374.8,91.8 L374.9,92.8 L375.1,93.8 L375.4,94.9 L375.7,96.1 L376.0,97.2 L376.3,98.4 L376.6,99.5 L376.8,100.5 L377.1,101.6 L377.3,102.6 L377.6,103.7 L377.8,104.7 L378.1,105.8 L378.3,106.8 L378.6,107.9 L378.8,108.9 L379.0,109.9 L379.2,110.9 L379.3,112.0 L379.5,113.0 L379.7,114.0 L379.9,115.0 L380.0,116.1 L380.2,117.1 L380.4,118.1 L380.6,119.1 L380.7,120.2 L380.9,121.2 L381.1,122.2" fill="none" stroke="#e57bf7" stroke-width="0.7" opacity="0.7"/>
<path d="M385.2,140.2 H405.2" stroke="#5a8a16" stroke-width="0.6" opacity="0.85"/><circle cx="395.2" cy="140.2" r="0.9" fill="#5a8a16"/><text x="407.8" y="143.4" class="l">PES</text>
<path d="M385.2,151.2 H405.2" stroke="#f2c313" stroke-width="0.6" opacity="0.85"/><circle cx="395.2" cy="151.2" r="0.9" fill="#f2c313"/><text x="407.8" y="154.4" class="l">PES+DTD</text>
<path d="M385.2,162.3 H405.2" stroke="#f56c14" stroke-width="0.6" opacity="0.85"/><circle cx="395.2" cy="162.3" r="0.9" fill="#f56c14"/><text x="407.8" y="165.5" class="l">PES+DTD</text>
<path d="M385.2,173.3 H405.2" stroke="#ff0a28" stroke-width="0.6" opacity="0.85"/><circle cx="395.2" cy="173.3" r="0.9" fill="#ff0a28"/><text x="407.8" y="176.5" class="l">PES+TTSPi</text>
<path d="M385.2,184.4 H405.2" stroke="#9a07d6" stroke-width="0.6" opacity="0.85"/><circle cx="395.2" cy="184.4" r="0.9" fill="#9a07d6"/><text x="407.8" y="187.6" class="l">1M NaPF6 in EC:DEC-ref</text>
<path d="M385.2,195.4 H405.2" stroke="#e57bf7" stroke-width="0.6" opacity="0.85"/><circle cx="395.2" cy="195.4" r="0.9" fill="#e57bf7"/><text x="407.8" y="198.6" class="l">1M NaPF6 in EC:DEC +5%FEC</text>
<text x="0.9" y="7.7" class="p">a</text>
<text x="329.0" y="10.2" class="p">b</text>
<text x="164.8" y="247.7" text-anchor="middle" class="a1">Cycle number</text>
<text x="495.65" y="245.7" text-anchor="middle" class="a2">Cycle number</text>
<text transform="translate(8.2,111.2) rotate(-90)" text-anchor="middle" class="a">Specific discharge capacity (mAh/g)</text>
<text transform="translate(340.0,111.15) rotate(-90)" text-anchor="middle" class="a">Normalized discharge capacity</text>
</svg>
</body></html>
